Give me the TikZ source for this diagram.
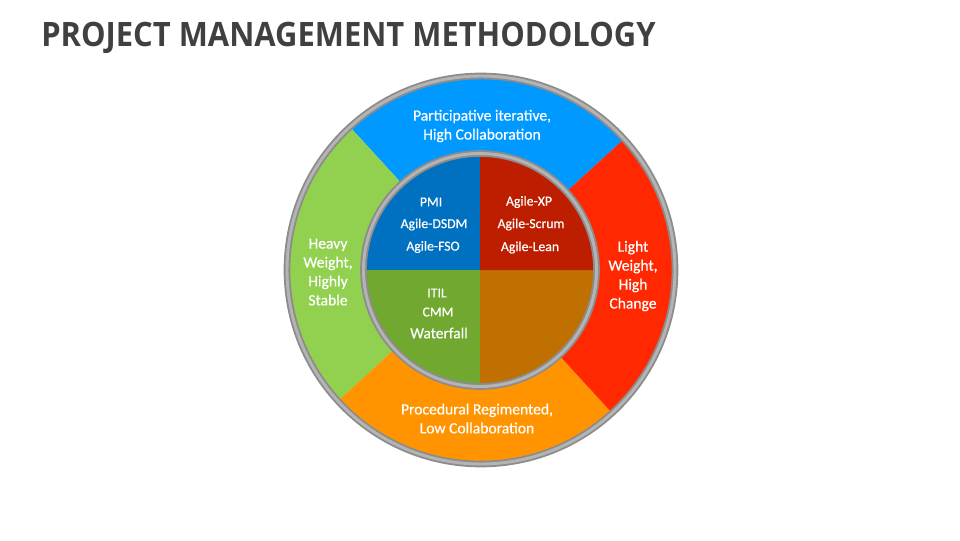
\documentclass[tikz,border=0pt]{standalone}
\usepackage{fontspec}
\setmainfont{Carlito}[FakeBold=0.5]
\newfontfamily\titlefont{Open Sans}
\definecolor{titlegrey}{HTML}{404040}
\definecolor{oblue}{HTML}{0099FF}
\definecolor{ogreen}{HTML}{92D050}
\definecolor{ored}{HTML}{FF2800}
\definecolor{oorange}{HTML}{FF9400}
\definecolor{iblue}{HTML}{0070C0}
\definecolor{ired}{HTML}{BE1E00}
\definecolor{igreen}{HTML}{70A830}
\definecolor{ibrown}{HTML}{BF7000}
\definecolor{ringdark}{HTML}{8C8C8C}
\definecolor{ringlight}{HTML}{B4B4B4}
\tikzset{
  lbl/.style={text=white, align=center, inner sep=0pt, font=\fontsize{11.7}{14.2}\selectfont},
  ilbl/.style={text=white, inner sep=0pt, font=\fontsize{10.3}{12}\selectfont},
  ringo/.style={line width=5, draw=ringdark},
  ringi/.style={line width=2.2, draw=ringlight},
}
\begin{document}
\begin{tikzpicture}[x=0.75pt,y=0.75pt]
\useasboundingbox (0,0) rectangle (960,540);
% outer wedges, centre (481,270)
\coordinate (oc) at (481,270);
\fill[oblue] (oc) -- ++(42.5:194) arc[start angle=42.5,end angle=132.5,radius=194] -- cycle;
\fill[ogreen] (oc) -- ++(132.5:194) arc[start angle=132.5,end angle=222.5,radius=194] -- cycle;
\fill[oorange] (oc) -- ++(222.5:194) arc[start angle=222.5,end angle=312.5,radius=194] -- cycle;
\fill[ored] (oc) -- ++(312.5:194) arc[start angle=312.5,end angle=402.5,radius=194] -- cycle;
\draw[ringo] (oc) circle[radius=194];
\draw[ringi] (oc) circle[radius=194];
% inner quadrants, centre (480,270)
\coordinate (ic) at (480,270);
\fill[iblue] (ic) -- ++(90:116.5) arc[start angle=90,end angle=180,radius=116.5] -- cycle;
\fill[igreen] (ic) -- ++(180:116.5) arc[start angle=180,end angle=270,radius=116.5] -- cycle;
\fill[ibrown] (ic) -- ++(270:116.5) arc[start angle=270,end angle=360,radius=116.5] -- cycle;
\fill[ired] (ic) -- ++(0:116.5) arc[start angle=0,end angle=90,radius=116.5] -- cycle;
\draw[ringo] (ic) circle[radius=116.5];
\draw[ringi] (ic) circle[radius=116.5];
% title
\node[anchor=base west, inner sep=0pt, text=titlegrey, font=\titlefont\bfseries\fontsize{25.2}{30}\selectfont] (title) at (41,493.3) {\scalebox{0.92}[1]{PROJECT MANAGEMENT METHODOLOGY}};
% outer labels
\node[lbl] (top) at (482,414) {Participative iterative,\\High Collaboration};
\node[lbl] (left) at (328,268) {Heavy\\Weight,\\Highly\\Stable};
\node[lbl] (right) at (633,264) {Light\\Weight,\\High\\Change};
\node[lbl] (bottom) at (477,121.5) {Procedural Regimented,\\Low Collaboration};
% inner labels
\node[ilbl] (pmi) at (431,338) {PMI};
\node[ilbl] (dsdm) at (434,315.5) {Agile-DSDM};
\node[ilbl] (fso) at (433,293) {Agile-FSO};
\node[ilbl] (xp) at (529,338) {Agile-XP};
\node[ilbl] (scrum) at (531,315.5) {Agile-Scrum};
\node[ilbl] (lean) at (530,292.5) {Agile-Lean};
\node[ilbl] (itil) at (437,247) {ITIL};
\node[ilbl] (cmm) at (438,228) {CMM};
\node[ilbl, font=\fontsize{11.6}{14}\selectfont] (waterfall) at (439,207) {Waterfall};
\end{tikzpicture}
\end{document}
